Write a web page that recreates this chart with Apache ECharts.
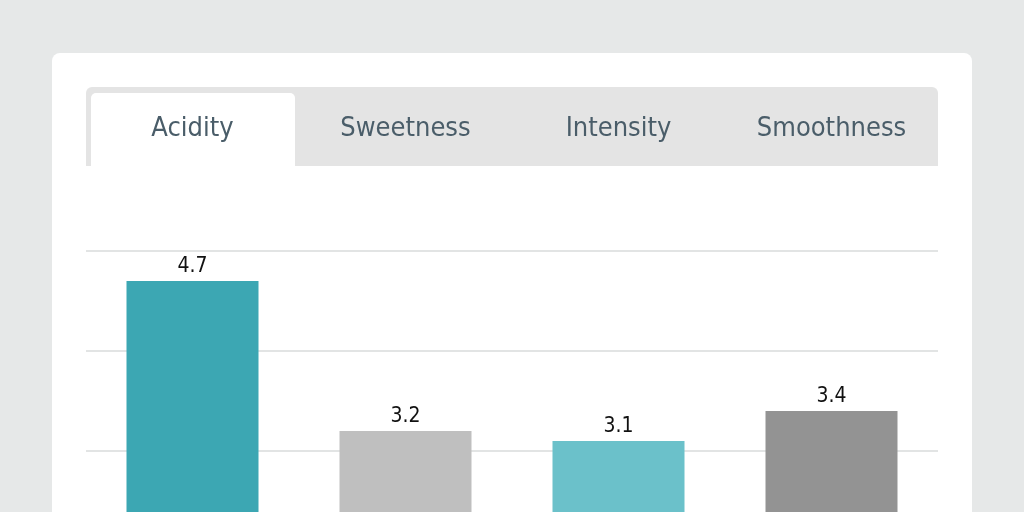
<!DOCTYPE html>
<html><head><meta charset="utf-8">
<script src="https://cdn.jsdelivr.net/npm/echarts@6/dist/echarts.min.js"></script>
<style>html,body{margin:0;padding:0;background:#e6e8e8;}#c{width:1024px;height:512px;}</style>
</head><body><div id="c"></div>
<script>
const categories = ['Acidity', 'Sweetness', 'Intensity', 'Smoothness'];
const values = [4.7, 3.2, 3.1, 3.4];
const barColors = ['#3ca7b3', '#bfbfbf', '#6bc1ca', '#939393'];
const FONT = '"Liberation Sans Narrow", "DejaVu Sans Condensed", sans-serif';

const chart = echarts.init(document.getElementById('c'));
chart.setOption({
  backgroundColor: '#e6e8e8',
  animation: false,
  graphic: [
    { type: 'rect', z: -30, shape: { x: 52, y: 53, width: 920, height: 520, r: 8 }, style: { fill: '#ffffff' } },
    { type: 'rect', z: -20, shape: { x: 86, y: 87, width: 852, height: 79, r: [6, 6, 0, 0] }, style: { fill: '#e4e4e4' } },
    { type: 'rect', z: -10, shape: { x: 91, y: 93, width: 204, height: 73, r: [5, 5, 0, 0] }, style: { fill: '#ffffff' } }
  ],
  grid: { left: 86, width: 852, top: 251, height: 500, containLabel: false, outerBoundsMode: 'none' },
  xAxis: {
    type: 'category', data: categories, position: 'top',
    axisLine: { show: false }, axisTick: { show: false },
    axisLabel: { interval: 0, hideOverlap: false, margin: 122, verticalAlign: 'middle', fontFamily: FONT, fontSize: 27, color: '#4a5d69' }
  },
  yAxis: {
    type: 'value', min: 0, max: 5, interval: 1,
    axisLabel: { show: false }, axisLine: { show: false }, axisTick: { show: false },
    splitLine: { lineStyle: { color: '#e2e4e4', width: 2 } }
  },
  series: [{
    type: 'bar', barWidth: 132,
    data: values.map((v, i) => ({ value: v, itemStyle: { color: barColors[i] } })),
    label: { show: true, position: 'top', distance: 4, fontFamily: FONT, fontSize: 21, color: '#111111' }
  }]
});
</script></body></html>
